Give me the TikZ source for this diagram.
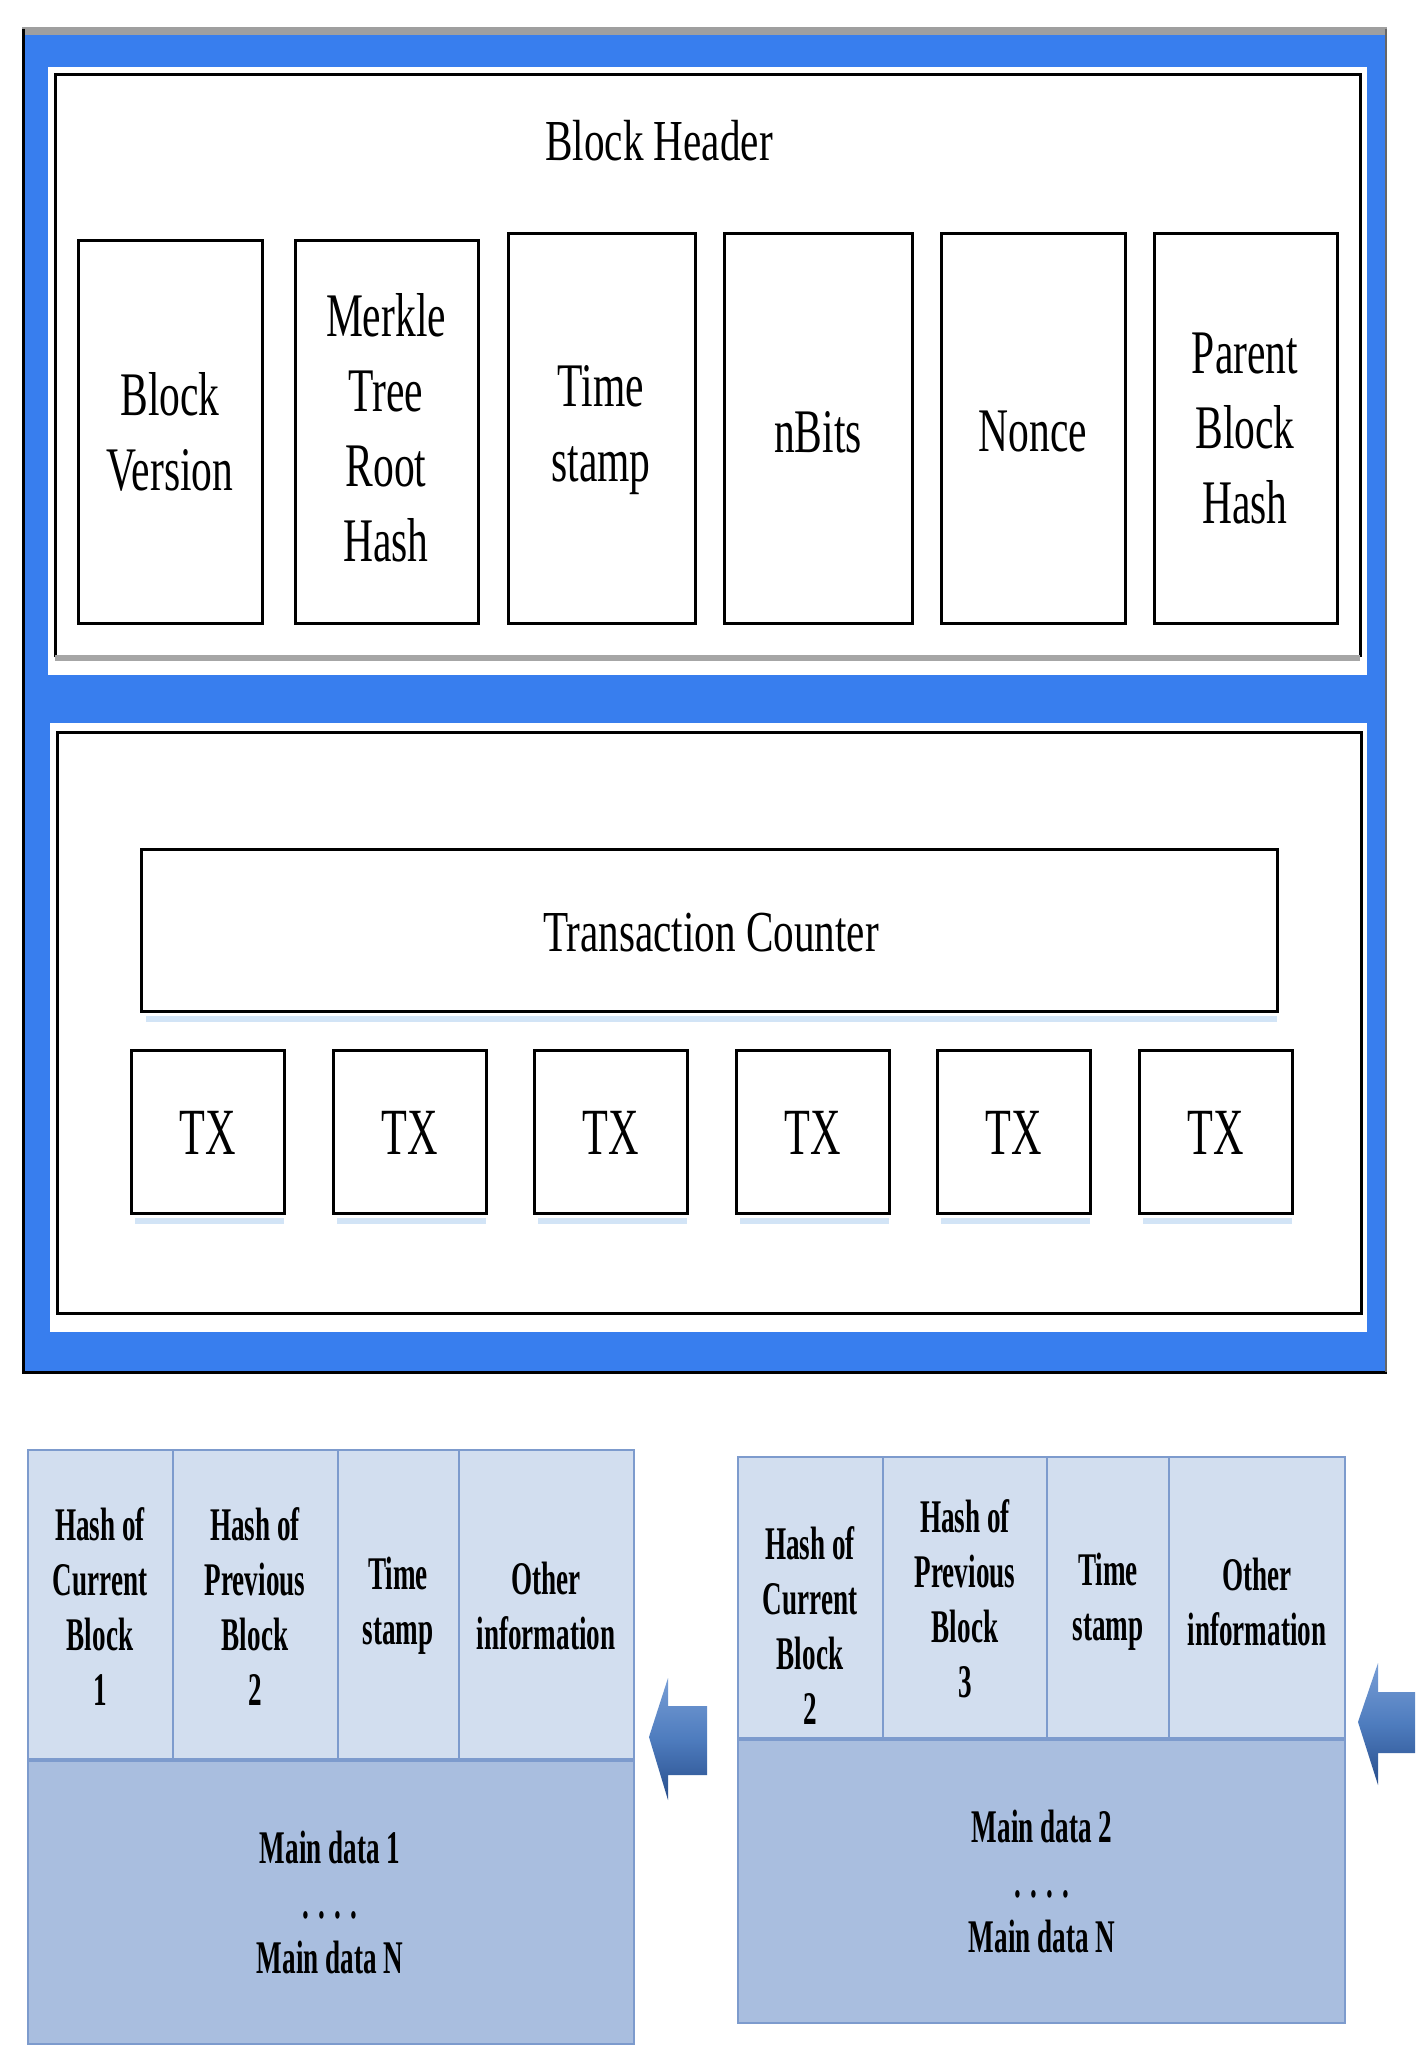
\documentclass[tikz,border=0pt]{standalone}
\usepackage{fontspec}
\setmainfont{Liberation Serif}
\definecolor{frameblue}{RGB}{56,126,238}
\definecolor{lightrow}{RGB}{210,222,239}
\definecolor{darkrow}{RGB}{169,190,223}
\definecolor{rowline}{RGB}{125,155,205}
\definecolor{glowblue}{RGB}{210,228,246}
\definecolor{arrtop}{RGB}{120,158,214}
\definecolor{arrmid}{RGB}{78,124,190}
\definecolor{arrbot}{RGB}{40,78,140}
\tikzset{
  hdrtxt/.style={font=\fontsize{31}{37.5}\selectfont, align=center, xscale=0.67, inner sep=0pt},
  titletxt/.style={font=\fontsize{29}{34}\selectfont, xscale=0.71, inner sep=0pt},
  txtxt/.style={font=\fontsize{33}{38}\selectfont, xscale=0.64, inner sep=0pt},
  btxt/.style={font=\bfseries\fontsize{23.4}{27.5}\selectfont, align=center, xscale=0.58, inner sep=0pt},
  blackbox/.style={draw=black, line width=1.5pt, fill=white},
  glowline/.style={draw=glowblue, line width=3pt},
  rowborder/.style={draw=rowline, line width=1pt},
  blockarrow/.style={top color=arrtop, bottom color=arrbot, middle color=arrmid},
}
\begin{document}
\begin{tikzpicture}[x=0.5pt,y=-0.5pt]
\useasboundingbox[fill=white] (0,0) rectangle (1415,2054);

% ---------- outer blue frame ----------
\fill[frameblue] (22,28) rectangle (1387,1374);
\draw[gray!75, line width=4pt] (22,31) -- (1387,31);
\draw[black, line width=1.5pt] (23,29) -- (23,1372) -- (1387,1372);
\draw[black!60, line width=1pt] (1386,29) -- (1386,1372);

% ---------- block header panel ----------
\fill[white] (48,67) rectangle (1367,675);
\draw[black, line width=1.5pt] (55,657) -- (55,75) -- (1360,75) -- (1360,657);
\draw[gray!70, line width=3pt] (55,658) -- (1360,658);
\node[titletxt] (bh) at (659,141) {Block Header};

\draw[blackbox] (78,241) rectangle (262,623);
\draw[blackbox] (295,241) rectangle (478,623);
\draw[blackbox] (508,234) rectangle (695,623);
\draw[blackbox] (724,234) rectangle (912,623);
\draw[blackbox] (941,234) rectangle (1125,623);
\draw[blackbox] (1154,234) rectangle (1337,623);

\node[hdrtxt] (bv) at (170,432) {Block\\Version};
\node[hdrtxt] (mr) at (386,428) {Merkle\\Tree\\Root\\Hash};
\node[hdrtxt] (ts) at (601,430) {Time\\stamp};
\node[hdrtxt] (nb) at (818,432) {nBits};
\node[hdrtxt] (nc) at (1033,432) {Nonce};
\node[hdrtxt] (pb) at (1245,429) {Parent\\Block\\Hash};

% ---------- transactions panel ----------
\fill[white] (50,723) rectangle (1367,1332);
\draw[black, line width=1.5pt] (57,732) rectangle (1361,1313);

\draw[glowline] (146,1019) -- (1277,1019);
\draw[blackbox] (141,849) rectangle (1277,1011);
\node[titletxt] (tc) at (711,933) {Transaction Counter};

\foreach \i/\xl in {1/131,2/333,3/534,4/736,5/937,6/1139}{
  \draw[glowline] (\xl+4,1221) -- (\xl+153,1221);
  \draw[blackbox] (\xl,1050) rectangle (\xl+153,1213);
  \node[txtxt] (tx\i) at (\xl+77,1133) {TX};
}

% ---------- bottom left block ----------
\fill[lightrow] (28,1450) rectangle (634,1760);
\fill[darkrow] (28,1760) rectangle (634,2044);
\draw[rowborder] (28,1450) rectangle (634,2044);
\draw[rowline, line width=2pt] (28,1760) -- (634,1760);
\draw[rowborder] (173,1450) -- (173,1760);
\draw[rowborder] (338,1450) -- (338,1760);
\draw[rowborder] (459,1450) -- (459,1760);

\node[btxt] (l1) at (100,1607) {Hash of\\Current\\Block\\1};
\node[btxt] (l2) at (255,1607) {Hash of\\Previous\\Block\\2};
\node[btxt] (l3) at (398,1606) {Time\\stamp};
\node[btxt] (l4) at (546,1606) {Other\\information};
\node[btxt] (lm) at (330,1902) {Main data 1\\. . . .\\Main data N};

% ---------- bottom right block ----------
\fill[lightrow] (738,1457) rectangle (1345,1739);
\fill[darkrow] (738,1739) rectangle (1345,2023);
\draw[rowborder] (738,1457) rectangle (1345,2023);
\draw[rowline, line width=2pt] (738,1739) -- (1345,1739);
\draw[rowborder] (883,1457) -- (883,1739);
\draw[rowborder] (1047,1457) -- (1047,1739);
\draw[rowborder] (1169,1457) -- (1169,1739);

\node[btxt] (r1) at (810,1626) {Hash of\\Current\\Block\\2};
\node[btxt] (r2) at (965,1599) {Hash of\\Previous\\Block\\3};
\node[btxt] (r3) at (1108,1602) {Time\\stamp};
\node[btxt] (r4) at (1257,1602) {Other\\information};
\node[btxt] (rm) at (1042,1881) {Main data 2\\. . . .\\Main data N};

% ---------- block arrows ----------
\shade[blockarrow] (649,1737) -- (668,1678) -- (668,1706) -- (707,1706)
  -- (707,1775) -- (668,1775) -- (668,1800) -- cycle;
\shade[blockarrow] (1358,1722) -- (1378,1663) -- (1378,1692) -- (1415,1692)
  -- (1415,1753) -- (1378,1753) -- (1378,1785) -- cycle;
\end{tikzpicture}
\end{document}
